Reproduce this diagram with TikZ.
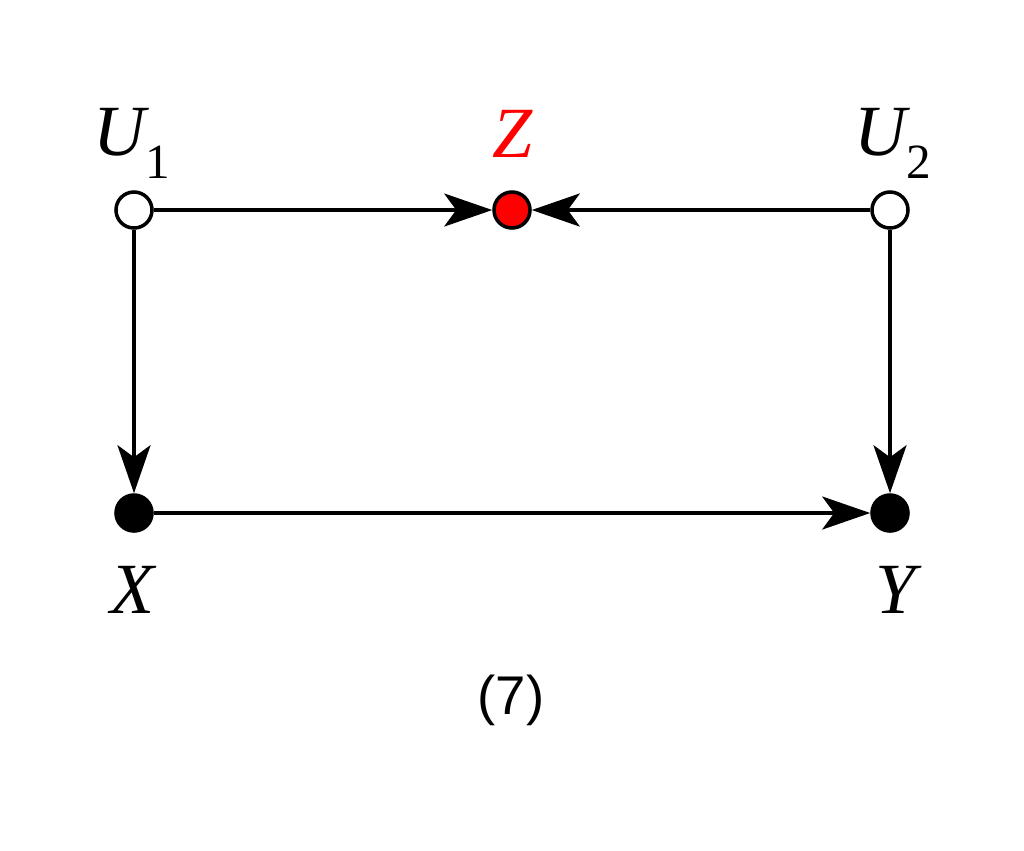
\documentclass[tikz,border=0pt]{standalone}
\usepackage{fontspec}
\setmainfont{Liberation Serif}
\newfontfamily\capfont{Liberation Sans}
\usetikzlibrary{arrows.meta}
\definecolor{nodered}{RGB}{255,0,0}
\newcommand{\lowsub}[1]{\raisebox{-0.23cm}{\fontsize{14}{14}\selectfont\upshape #1}}

\begin{document}
\begin{tikzpicture}[x=0.01cm, y=-0.01cm, line width=1pt,
    vertex/.style={circle, draw, inner sep=0pt, minimum size=0.36cm},
    edge/.style={-{Stealth[length=0.48cm, width=0.33cm, inset=0.12cm]}},
    varlabel/.style={anchor=base, inner sep=0pt, font=\fontsize{20.5}{20.5}\selectfont\itshape}]
    \useasboundingbox (0,0) rectangle (1024,850);

    % Vertices
    \node[vertex, fill=white] (u1) at (134,210) {};
    \node[vertex, fill=nodered] (z) at (512,210) {};
    \node[vertex, fill=white] (u2) at (890,210) {};
    \node[vertex, fill=black] (x) at (134,513) {};
    \node[vertex, fill=black] (y) at (890,513) {};

    % Labels
    \node[varlabel] at (132,155) {U\lowsub{1}};
    \node[varlabel, text=nodered] at (513,157) {Z};
    \node[varlabel] at (893,155) {U\lowsub{2}};
    \node[varlabel] at (133,613) {X};
    \node[varlabel] at (896,613) {Y};
    \node[anchor=base, inner sep=0pt, font=\capfont\fontsize{15.5}{15.5}\selectfont] at (511,714) {(7)};

    % Edges
    \draw[edge] (u1) -- (z);
    \draw[edge] (u2) -- (z);
    \draw[edge] (u1) -- (x);
    \draw[edge] (u2) -- (y);
    \draw[edge] (x) -- (y);
\end{tikzpicture}
\end{document}
